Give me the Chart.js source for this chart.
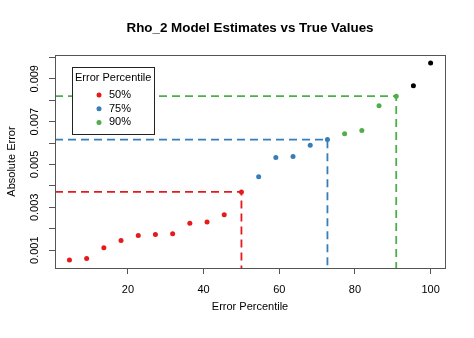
<!DOCTYPE html>
<html>
<head>
<meta charset="utf-8">
<style>
  body { margin: 0; background: #fff; }
  canvas { display: block; }
</style>
</head>
<body>
<canvas id="myChart" width="474" height="338"></canvas>

<script src="https://cdn.jsdelivr.net/npm/chart.js"></script>
<script>
  // 各組資料（Error Percentile, Absolute Error）
  const redX = [4.55, 9.09, 13.64, 18.18, 22.73, 27.27, 31.82, 36.36, 40.91, 45.45, 50.00];
  const redY = [0.00054, 0.00061, 0.00111, 0.00145, 0.00168, 0.00173, 0.00176, 0.00226, 0.00232, 0.00265, 0.00372];
  const blueX = [54.55, 59.09, 63.64, 68.18, 72.73];
  const blueY = [0.00443, 0.00533, 0.00537, 0.00590, 0.00616];
  const greenX = [77.27, 81.82, 86.36, 90.91];
  const greenY = [0.00643, 0.00658, 0.00774, 0.00819];
  const blackX = [95.45, 100.00];
  const blackY = [0.00867, 0.00974];

  const legendLabels = ['50%', '75%', '90%'];
  const xTicks = [20, 40, 60, 80, 100];
  const yTicks = [0.001, 0.002, 0.003, 0.004, 0.005, 0.006, 0.007, 0.008, 0.009, 0.010];
  const yTickLabels = ['0.001', '', '0.003', '', '0.005', '', '0.007', '', '0.009', ''];

  const X_MIN = 0.727, X_MAX = 103.8;
  const Y_MIN = 0.000167, Y_MAX = 0.01011;

  const RED = '#E41A1C', BLUE = '#377EB8', GREEN = '#4DAF4A';
  const FONT = "'Liberation Sans', Arial, sans-serif";

  const pts = (xs, ys) => xs.map((x, i) => ({ x: x, y: ys[i] }));
  // 門檻虛線：左邊到最後一點，再往下到底
  const cutLine = (xs, ys) => {
    const x = xs[xs.length - 1], y = ys[ys.length - 1];
    return [{ x: X_MIN, y: y }, { x: x, y: y }, { x: x, y: Y_MIN }];
  };

  function pointSet(data, color) {
    return { data, backgroundColor: color, borderColor: color, pointRadius: 2.5, pointBorderWidth: 0, showLine: false, order: 0 };
  }
  function dashSet(data, color) {
    return { data, borderColor: color, borderWidth: 1.8, borderDash: [8, 5], pointRadius: 0, showLine: true, fill: false, order: 1 };
  }

  const decor = {
    id: 'decor',
    afterDraw(chart) {
      const ctx = chart.ctx, a = chart.chartArea;
      ctx.save();
      // 外框
      ctx.strokeStyle = '#555';
      ctx.lineWidth = 1;
      ctx.strokeRect(a.left + 0.5, a.top + 0.5, a.right - a.left, a.bottom - a.top);

      // 標題
      ctx.fillStyle = '#000';
      ctx.textAlign = 'center';
      ctx.textBaseline = 'middle';
      ctx.font = 'bold 13.4px ' + FONT;
      ctx.fillText('Rho_2 Model Estimates vs True Values', (a.left + a.right) / 2, 28);

      ctx.font = '11px ' + FONT;
      ctx.fillText('Error Percentile', (a.left + a.right) / 2, 307);

      // y 軸刻度文字（直立）
      const ys = chart.scales.y;
      yTicks.forEach((v, i) => {
        if (!yTickLabels[i]) return;
        ctx.save();
        ctx.translate(35, ys.getPixelForValue(v));
        ctx.rotate(-Math.PI / 2);
        ctx.fillText(yTickLabels[i], 0, 0);
        ctx.restore();
      });
      ctx.save();
      ctx.translate(12, (a.top + a.bottom) / 2);
      ctx.rotate(-Math.PI / 2);
      ctx.fillText('Absolute Error', 0, 0);
      ctx.restore();

      // 圖例
      ctx.fillStyle = '#fff';
      ctx.fillRect(72, 67, 82, 67);
      ctx.strokeStyle = '#222';
      ctx.strokeRect(72.5, 67.5, 82, 67);
      ctx.fillStyle = '#000';
      ctx.textAlign = 'left';
      ctx.fillText('Error Percentile', 75, 78);
      const cols = [RED, BLUE, GREEN];
      legendLabels.forEach((t, i) => {
        const y = 95 + i * 13.7;
        ctx.fillStyle = cols[i];
        ctx.beginPath();
        ctx.arc(99, y, 2.5, 0, Math.PI * 2);
        ctx.fill();
        ctx.fillStyle = '#000';
        ctx.fillText(t, 109, y);
      });
      ctx.restore();
    }
  };

  new Chart(document.getElementById('myChart').getContext('2d'), {
    type: 'scatter',
    data: {
      datasets: [
        pointSet(pts(redX, redY), RED),
        pointSet(pts(blueX, blueY), BLUE),
        pointSet(pts(greenX, greenY), GREEN),
        pointSet(pts(blackX, blackY), '#000'),
        dashSet(cutLine(redX, redY), RED),
        dashSet(cutLine(blueX, blueY), BLUE),
        dashSet(cutLine(greenX, greenY), GREEN)
      ]
    },
    options: {
      responsive: false,
      animation: false,
      events: [],
      layout: { padding: { top: 55, right: 29, bottom: 0, left: 0 } },
      plugins: {
        legend: { display: false },
        tooltip: { enabled: false }
      },
      scales: {
        x: {
          type: 'linear',
          min: X_MIN,
          max: X_MAX,
          afterBuildTicks: s => { s.ticks = xTicks.map(v => ({ value: v })); },
          afterFit: s => { s.height = 70; },
          grid: { drawOnChartArea: false, tickLength: 6, color: '#555' },
          border: { color: '#555' },
          ticks: { color: '#000', font: { size: 11, family: FONT }, padding: 9, maxRotation: 0 }
        },
        y: {
          type: 'linear',
          min: Y_MIN,
          max: Y_MAX,
          afterBuildTicks: s => { s.ticks = yTicks.map(v => ({ value: v })); },
          afterFit: s => { s.width = 55; },
          grid: { drawOnChartArea: false, tickLength: 6, color: '#555' },
          border: { color: '#555' },
          ticks: { display: false }
        }
      }
    },
    plugins: [decor]
  });
</script>
</body>
</html>
